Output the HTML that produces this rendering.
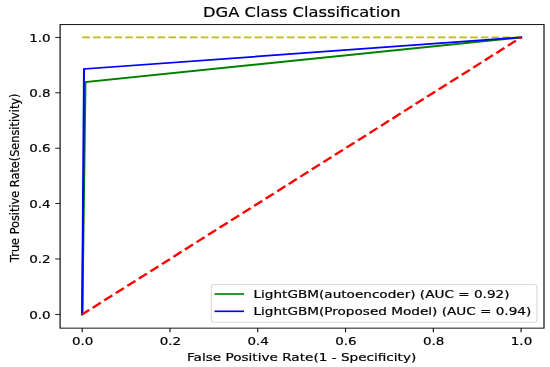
<!DOCTYPE html>
<html lang="en"><head><meta charset="utf-8"><title>DGA Class Classification</title>
<style>html,body{margin:0;padding:0;background:#fff}body{width:550px;height:367px;overflow:hidden}svg{display:block}text{font-family:"DejaVu Sans","Liberation Sans",sans-serif;fill:#000;stroke:#000;stroke-width:0.18px}</style>
</head><body>
<svg width="550" height="367" viewBox="0 0 550 367">
<rect width="550" height="367" fill="#fff"/>
<g transform="scale(1.347,1.1)">
<polyline points="61.02,34 386.86,34" fill="none" stroke="#bfbf00" stroke-width="1.6" stroke-linejoin="miter" stroke-dasharray="5.68 2.32" stroke-dashoffset="0"/>
<polyline points="61.02,285.82 63.34,74.54 386.86,34" fill="none" stroke="#008000" stroke-width="1.7" stroke-linejoin="miter" stroke-linecap="square"/>
<polyline points="61.02,285.82 62.36,62.71 386.86,34" fill="none" stroke="#0000ff" stroke-width="1.5" stroke-linejoin="miter" stroke-linecap="square"/>
<polyline points="61.02,285.82 386.86,34" fill="none" stroke="#ff0000" stroke-width="2" stroke-linejoin="miter" stroke-dasharray="7.55 3.27" stroke-dashoffset="0.94"/>
<rect x="44.62" y="22.32" width="359.24" height="276" fill="none" stroke="#111" stroke-width="0.9"/>
<line x1="61.02" y1="298.32" x2="61.02" y2="302.12" stroke="#000" stroke-width="0.8"/>
<text transform="translate(61.32,313.74) scale(1,1)" font-size="10" text-anchor="middle">0.0</text>
<line x1="41.02" y1="285.82" x2="44.62" y2="285.82" stroke="#000" stroke-width="0.8"/>
<text transform="translate(37.62,289.62) scale(1,1)" font-size="10" text-anchor="end">0.0</text>
<line x1="126.19" y1="298.32" x2="126.19" y2="302.12" stroke="#000" stroke-width="0.8"/>
<text transform="translate(126.49,313.74) scale(1,1)" font-size="10" text-anchor="middle">0.2</text>
<line x1="41.02" y1="235.45" x2="44.62" y2="235.45" stroke="#000" stroke-width="0.8"/>
<text transform="translate(37.62,239.25) scale(1,1)" font-size="10" text-anchor="end">0.2</text>
<line x1="191.36" y1="298.32" x2="191.36" y2="302.12" stroke="#000" stroke-width="0.8"/>
<text transform="translate(191.66,313.74) scale(1,1)" font-size="10" text-anchor="middle">0.4</text>
<line x1="41.02" y1="185.09" x2="44.62" y2="185.09" stroke="#000" stroke-width="0.8"/>
<text transform="translate(37.62,188.89) scale(1,1)" font-size="10" text-anchor="end">0.4</text>
<line x1="256.53" y1="298.32" x2="256.53" y2="302.12" stroke="#000" stroke-width="0.8"/>
<text transform="translate(256.82,313.74) scale(1,1)" font-size="10" text-anchor="middle">0.6</text>
<line x1="41.02" y1="134.73" x2="44.62" y2="134.73" stroke="#000" stroke-width="0.8"/>
<text transform="translate(37.62,138.53) scale(1,1)" font-size="10" text-anchor="end">0.6</text>
<line x1="321.69" y1="298.32" x2="321.69" y2="302.12" stroke="#000" stroke-width="0.8"/>
<text transform="translate(321.99,313.74) scale(1,1)" font-size="10" text-anchor="middle">0.8</text>
<line x1="41.02" y1="84.36" x2="44.62" y2="84.36" stroke="#000" stroke-width="0.8"/>
<text transform="translate(37.62,88.16) scale(1,1)" font-size="10" text-anchor="end">0.8</text>
<line x1="386.86" y1="298.32" x2="386.86" y2="302.12" stroke="#000" stroke-width="0.8"/>
<text transform="translate(387.16,313.74) scale(1,1)" font-size="10" text-anchor="middle">1.0</text>
<line x1="41.02" y1="34" x2="44.62" y2="34" stroke="#000" stroke-width="0.8"/>
<text transform="translate(37.62,37.8) scale(1,1)" font-size="10" text-anchor="end">1.0</text>
<text transform="translate(224.02,15.73) scale(1.009,1)" font-size="12" text-anchor="middle">DGA Class Classification</text>
<text transform="translate(223.94,328.09) scale(1.011,1)" font-size="10" text-anchor="middle">False Positive Rate(1 - Specificity)</text>
<rect x="156.87" y="258.73" width="241.8" height="34.27" rx="2" ry="2" fill="#fff" fill-opacity="0.8" stroke="#ccc" stroke-opacity="0.7" stroke-width="0.9"/>
<line x1="159.24" y1="267.27" x2="181.14" y2="267.27" stroke="#008000" stroke-width="1.5"/>
<line x1="159.24" y1="283" x2="181.14" y2="283" stroke="#0000ff" stroke-width="1.5"/>
<text transform="translate(188.2,270.82) scale(1.01,1)" font-size="10" text-anchor="start">LightGBM(autoencoder) (AUC = 0.92)</text>
<text transform="translate(188.2,286.45) scale(1.01,1)" font-size="10" text-anchor="start">LightGBM(Proposed Model) (AUC = 0.94)</text>
</g>
<text transform="translate(19,177.75) rotate(-90) scale(1.132,1.17)" font-size="10" text-anchor="middle">True Positive Rate(Sensitivity)</text>
</svg>
</body></html>
